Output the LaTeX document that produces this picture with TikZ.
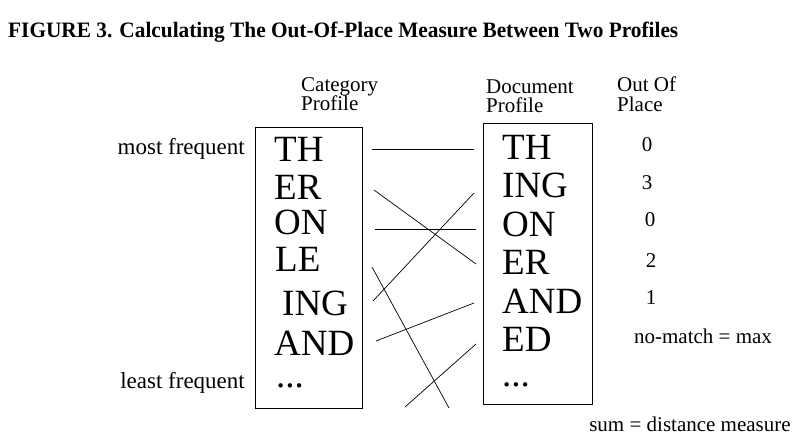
\documentclass[tikz,border=0pt]{standalone}
\usepackage{fontspec}
\setmainfont{Liberation Serif}
\usepackage{graphicx}
\usetikzlibrary{positioning}
\tikzset{
  % n-gram inside a profile
  gram/.style={anchor=base west, inner sep=0pt, text height=26pt, text depth=0pt,
    font=\rmfamily\fontsize{37}{37}\selectfont},
  % trailing dots of a profile
  more/.style={gram, text height=5pt},
  % column heading
  colhead/.style={anchor=base west, inner sep=0pt, font=\rmfamily\fontsize{21}{21}\selectfont},
  % rank label on the left
  rank/.style={anchor=base east, inner sep=0pt, font=\rmfamily\fontsize{23}{23}\selectfont},
  % out-of-place value
  score/.style={anchor=base, inner sep=0pt, font=\rmfamily\fontsize{21}{21}\selectfont},
  % profile frame
  profile/.style={draw, line width=0.8pt},
  % matching line
  link/.style={line width=0.7pt},
}

\begin{document}
\begin{tikzpicture}[x=1pt, y=-1pt]
    \useasboundingbox (0,0) rectangle (808,446);

    \node[anchor=base west, inner sep=0pt, font=\rmfamily\fontsize{22}{22}\selectfont\bfseries] (title) at (8,38)
      {\resizebox{670pt}{\height}{FIGURE 3. Calculating The Out-Of-Place Measure Between Two Profiles}};

    % headings
    \node[colhead] (cathead) at (301,92) {Category};
    \node[colhead] (catprof) at (301,111) {Profile};
    \node[colhead] (dochead) at (486,94) {Document};
    \node[colhead] (docprof) at (486,113) {Profile};
    \node[colhead] (oophead) at (617,92) {Out Of};
    \node[colhead] (oopplace) at (617,112) {Place};

    \node[rank] (most) at (245,155) {most frequent};
    \node[rank] (least) at (245,388) {least frequent};

    % profiles
    \draw[profile] (255,127) rectangle (362,408);
    \draw[profile] (483,123) rectangle (592,404);

    \node[gram] (cTH) at (274,162) {TH};
    \node[gram] (cER) at (274,200) {ER};
    \node[gram] (cON) at (274,235) {ON};
    \node[gram] (cLE) at (275,272) {LE};
    \node[gram] (cING) at (282,315) {ING};
    \node[gram] (cAND) at (274,355) {AND};
    \node[more] (cdots) at (276,387) {...};

    \node[gram] (dTH) at (502,160) {TH};
    \node[gram] (dING) at (502,198) {ING};
    \node[gram] (dON) at (502,237) {ON};
    \node[gram] (dER) at (502,274) {ER};
    \node[gram] (dAND) at (502,313) {AND};
    \node[gram] (dED) at (502,351) {ED};
    \node[more] (ddots) at (502,386) {...};

    % line ends
    \coordinate (aTH) at (372,149);
    \coordinate (aER) at (374,190);
    \coordinate (aON) at (375,229);
    \coordinate (aLE) at (372,267);
    \coordinate (aING) at (373,301);
    \coordinate (aAND) at (376,341);
    \coordinate (aED) at (405,407);
    \coordinate (bTH) at (474,149);
    \coordinate (bING) at (474,193);
    \coordinate (bON) at (476,229);
    \coordinate (bER) at (476,264);
    \coordinate (bAND) at (474,303);
    \coordinate (bED) at (476,344);
    \coordinate (bLE) at (449,408);

    \draw[link] (aTH) -- (bTH);
    \draw[link] (aER) -- (bER);
    \draw[link] (aON) -- (bON);
    \draw[link] (aING) -- (bING);
    \draw[link] (aAND) -- (bAND);
    \draw[link] (aLE) -- (bLE);
    \draw[link] (aED) -- (bED);

    % out-of-place values
    \node[score] (s1) at (647,152) {0};
    \node[score] (s2) at (647,190) {3};
    \node[score] (s3) at (650,227) {0};
    \node[score] (s4) at (651,268) {2};
    \node[score] (s5) at (651,305) {1};
    \node[score] (nomatch) at (703,343) {no-match = max};
    \node[score] (sum) at (690,431) {sum = distance measure};
  \end{tikzpicture}
\end{document}
